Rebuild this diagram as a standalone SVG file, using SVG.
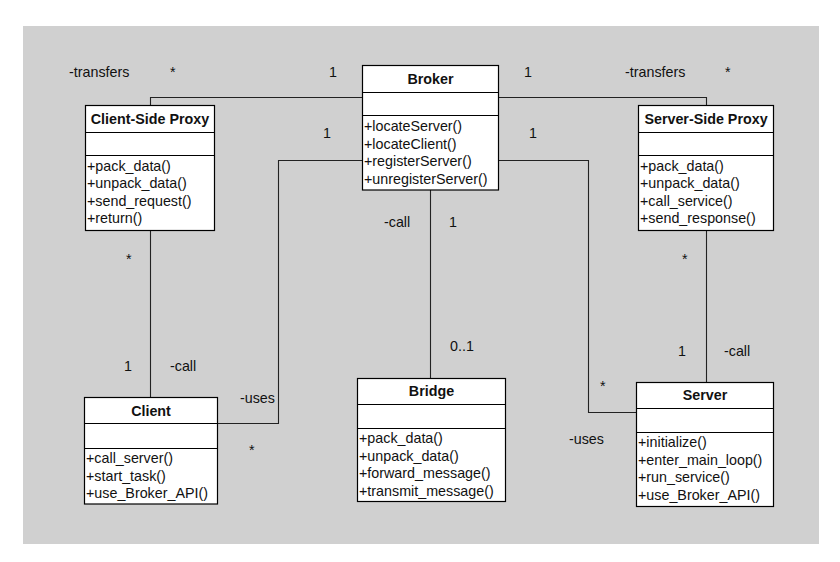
<svg xmlns="http://www.w3.org/2000/svg" width="840" height="562" viewBox="0 0 840 562">
<style>
text{font-family:"Liberation Sans",Arial,Helvetica,sans-serif;font-size:14.3px;fill:#111}
.t{font-weight:bold;text-anchor:middle}
.box{fill:#fff;stroke:#000;stroke-width:1.2}
.sep{stroke:#000;stroke-width:1.2}
.c{fill:none;stroke:#222;stroke-width:1.1}
</style>
<rect x="0" y="0" width="840" height="562" fill="#fff"/>
<rect x="23" y="26" width="796" height="518" fill="#d0d0d0"/>
<g id="connectors">
<path class="c" d="M150.5,105.5 V97.5 H362.5"/>
<path class="c" d="M498.5,97.5 H706.5 V105.5"/>
<path class="c" d="M362.5,160.5 H278.5 V423.5 H217.5"/>
<path class="c" d="M498.5,160.5 H588.5 V412.5 H636.5"/>
<path class="c" d="M430.5,190 V378.5"/>
<path class="c" d="M150.5,230.5 V397.5"/>
<path class="c" d="M706.5,230.5 V382.5"/>
</g>
<g id="labels">
<text x="69" y="77">-transfers</text>
<text x="170" y="77">*</text>
<text x="329" y="77">1</text>
<text x="524" y="77">1</text>
<text x="625" y="77">-transfers</text>
<text x="725" y="77">*</text>
<text x="323" y="138">1</text>
<text x="529" y="138">1</text>
<text x="384" y="227">-call</text>
<text x="449" y="227">1</text>
<text x="126" y="264">*</text>
<text x="682" y="264">*</text>
<text x="124" y="371">1</text>
<text x="170" y="371">-call</text>
<text x="450" y="351">0..1</text>
<text x="678" y="356">1</text>
<text x="724" y="356">-call</text>
<text x="240" y="403">-uses</text>
<text x="249" y="455">*</text>
<text x="600" y="391">*</text>
<text x="569" y="444">-uses</text>
</g>
<g id="broker">
<rect class="box" x="362.5" y="65.5" width="136" height="124.5"/>
<line class="sep" x1="362.5" y1="92.5" x2="498.5" y2="92.5"/>
<line class="sep" x1="362.5" y1="115.5" x2="498.5" y2="115.5"/>
<text class="t" x="430.5" y="84">Broker</text>
<text x="364" y="131">+locateServer()</text>
<text x="364" y="148.5">+locateClient()</text>
<text x="364" y="166">+registerServer()</text>
<text x="364" y="183.5">+unregisterServer()</text>
</g>
<g id="client-side-proxy">
<rect class="box" x="85.5" y="105.5" width="129" height="125"/>
<line class="sep" x1="85.5" y1="132.5" x2="214.5" y2="132.5"/>
<line class="sep" x1="85.5" y1="155.5" x2="214.5" y2="155.5"/>
<text class="t" x="150" y="124">Client-Side Proxy</text>
<text x="87" y="170.5">+pack_data()</text>
<text x="87" y="188">+unpack_data()</text>
<text x="87" y="205.5">+send_request()</text>
<text x="87" y="223">+return()</text>
</g>
<g id="server-side-proxy">
<rect class="box" x="638.5" y="105.5" width="135" height="125"/>
<line class="sep" x1="638.5" y1="132.5" x2="773.5" y2="132.5"/>
<line class="sep" x1="638.5" y1="155.5" x2="773.5" y2="155.5"/>
<text class="t" x="706" y="124">Server-Side Proxy</text>
<text x="640" y="170.5">+pack_data()</text>
<text x="640" y="188">+unpack_data()</text>
<text x="640" y="205.5">+call_service()</text>
<text x="640" y="223">+send_response()</text>
</g>
<g id="client">
<rect class="box" x="84.5" y="397.5" width="133" height="106.5"/>
<line class="sep" x1="84.5" y1="423.5" x2="217.5" y2="423.5"/>
<line class="sep" x1="84.5" y1="448.5" x2="217.5" y2="448.5"/>
<text class="t" x="151" y="416">Client</text>
<text x="86" y="463">+call_server()</text>
<text x="86" y="480.5">+start_task()</text>
<text x="86" y="498">+use_Broker_API()</text>
</g>
<g id="bridge">
<rect class="box" x="357.5" y="378.5" width="148" height="123"/>
<line class="sep" x1="357.5" y1="404.5" x2="505.5" y2="404.5"/>
<line class="sep" x1="357.5" y1="428.5" x2="505.5" y2="428.5"/>
<text class="t" x="431.5" y="396">Bridge</text>
<text x="359" y="443">+pack_data()</text>
<text x="359" y="460.5">+unpack_data()</text>
<text x="359" y="478">+forward_message()</text>
<text x="359" y="495.5">+transmit_message()</text>
</g>
<g id="server">
<rect class="box" x="636.5" y="382.5" width="137" height="124"/>
<line class="sep" x1="636.5" y1="408.5" x2="773.5" y2="408.5"/>
<line class="sep" x1="636.5" y1="432.5" x2="773.5" y2="432.5"/>
<text class="t" x="705" y="400">Server</text>
<text x="638" y="447">+initialize()</text>
<text x="638" y="464.5">+enter_main_loop()</text>
<text x="638" y="482">+run_service()</text>
<text x="638" y="499.5">+use_Broker_API()</text>
</g>
</svg>
